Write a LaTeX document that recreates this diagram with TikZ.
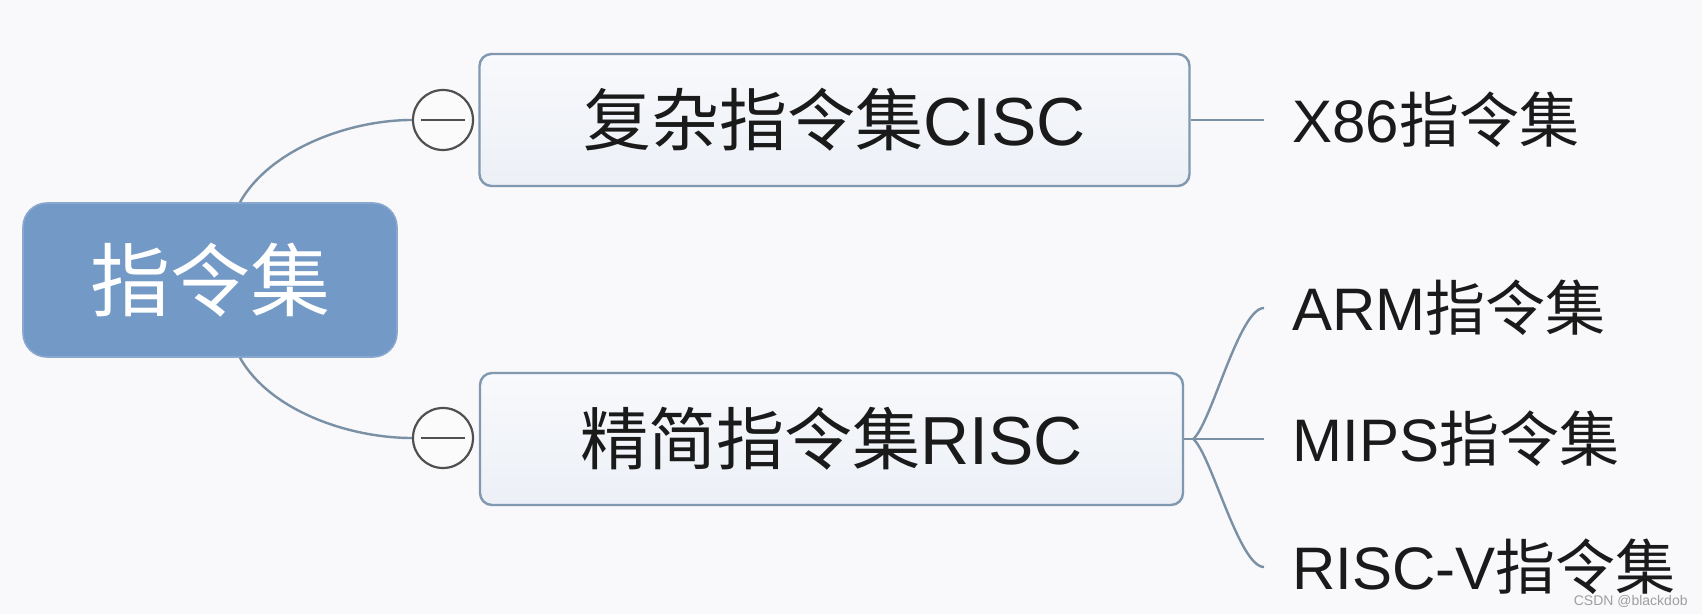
\documentclass[tikz,border=0pt]{standalone}
\usepackage{fontspec}
\setmainfont{Liberation Sans}
\newfontfamily\cjk{Noto Sans CJK SC}
\usetikzlibrary{calc}
\definecolor{bgc}{HTML}{F9F8FB}
\definecolor{rootc}{HTML}{7399C6}
\definecolor{boxtop}{HTML}{F8F9FC}
\definecolor{boxbot}{HTML}{ECF0F6}
\definecolor{boxline}{HTML}{8098B0}
\definecolor{connc}{HTML}{7A90A4}
\definecolor{circc}{HTML}{505050}
\definecolor{txtc}{HTML}{1A1A1A}
\tikzset{
  rootbox/.style={rounded corners=12pt, fill=rootc, draw=rootc!85!white, line width=0.8pt,
    minimum width=187pt, minimum height=77pt, text=white, inner sep=0pt,
    font=\fontsize{40}{40}\selectfont\cjk},
  midbox/.style={rounded corners=6pt, top color=boxtop, bottom color=boxbot, draw=boxline,
    line width=1.2pt, minimum height=66pt, text=txtc, inner sep=0pt,
    font=\fontsize{34}{34}\selectfont},
  leafnode/.style={anchor=west, inner xsep=14pt, inner ysep=0pt, text=txtc,
    font=\fontsize{30}{30}\selectfont},
  collapse/.style={circle, draw=circc, fill=white!97!gray, line width=1.1pt,
    minimum size=30pt, inner sep=0pt},
  minusbar/.style={draw=circc, line width=1.3pt},
  conn/.style={draw=connc, line width=1.2pt},
}
\begin{document}
\begin{tikzpicture}[x=0.5pt,y=-0.5pt]
\fill[bgc] (0,0) rectangle (1702,614);
\useasboundingbox (0,0) rectangle (1702,614);

% root
\node[rootbox] (root) at (210,280) {指令集};

% second level boxes
\node[midbox, minimum width=355pt] (cisc) at (834.5,120) {{\cjk 复杂指令集}CISC};
\node[midbox, minimum width=351.5pt] (risc) at (831.5,439) {{\cjk 精简指令集}RISC};

% collapse circles
\node[collapse] (c1) at (443,120) {};
\node[collapse] (c2) at (443,438) {};
\draw[minusbar] ([xshift=-11pt]c1.center) -- ([xshift=11pt]c1.center);
\draw[minusbar] ([xshift=-11pt]c2.center) -- ([xshift=11pt]c2.center);

% leaves
\node[leafnode] (x86) at (1264,120) {X86{\cjk 指令集}};
\node[leafnode] (arm) at (1264,308) {ARM{\cjk 指令集}};
\node[leafnode] (mips) at (1264,439) {MIPS{\cjk 指令集}};
\node[leafnode] (riscv) at (1264,567) {RISC-V{\cjk 指令集}};

% connectors root -> circles
\draw[conn] ([xshift=15pt]root.north) .. controls +(30,-53) and +(-63,0) .. (c1.west);
\draw[conn] ([xshift=15pt]root.south) .. controls +(30,53) and +(-63,0) .. (c2.west);

% cisc -> x86
\draw[conn] (cisc.east) -- (x86.west);

% risc fork
\coordinate (fork) at ([xshift=4.5pt]risc.east);
\draw[conn] (risc.east) -- (fork);
\draw[conn] (fork) .. controls +(18,-15) and +(-25,0) .. (arm.west);
\draw[conn] (fork) -- (mips.west);
\draw[conn] (fork) .. controls +(18,15) and +(-25,0) .. (riscv.west);

% watermark
\node[anchor=south east, inner sep=0pt, text=gray!75, font=\fontsize{7}{7}\selectfont] (wm) at (1688,608) {CSDN @blackdob};
\end{tikzpicture}
\end{document}
